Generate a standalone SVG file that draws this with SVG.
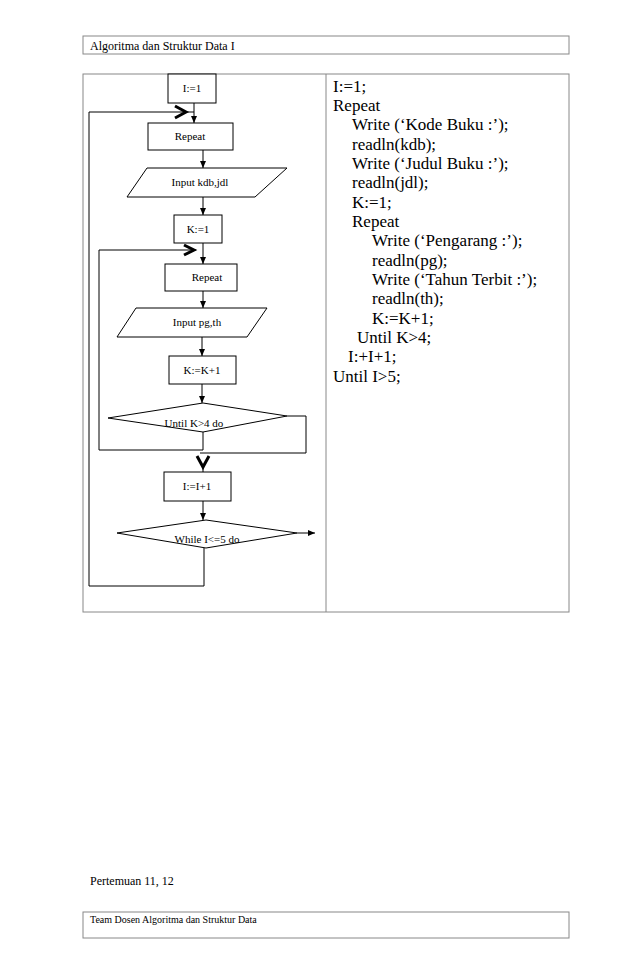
<svg xmlns="http://www.w3.org/2000/svg" width="638" height="976" viewBox="0 0 638 976">
<style>
.b{fill:#fff;stroke:#000;stroke-width:1}
.f{fill:none;stroke:#888;stroke-width:1}
.t{font-family:"Liberation Serif",serif;font-size:11px;fill:#000}
.c{font-family:"Liberation Serif",serif;font-size:17px;fill:#000}
.l{fill:none;stroke:#000;stroke-width:1}
.h{fill:none;stroke:#000;stroke-width:3}
</style>
<defs><marker id="a" markerWidth="8" markerHeight="8" refX="7" refY="4" orient="auto" markerUnits="userSpaceOnUse"><path d="M0,1 L7,4 L0,7 Z" fill="#000"/></marker></defs>
<rect width="638" height="976" fill="#fff"/>
<rect class="f" x="83" y="36" width="486" height="18"/>
<text class="t" x="90" y="50" style="font-size:12px">Algoritma dan Struktur Data I</text>
<rect class="f" x="83" y="74" width="486" height="538"/>
<line class="f" x1="326" y1="74" x2="326" y2="612"/>
<text class="t" x="90" y="885" style="font-size:12px">Pertemuan 11, 12</text>
<rect class="f" x="83" y="912" width="486" height="26"/>
<text class="t" x="90" y="923" style="font-size:10px">Team Dosen Algoritma dan Struktur Data</text>
<g id="connectors">
<line class="l" x1="194" y1="103" x2="194" y2="123" marker-end="url(#a)"/>
<line class="l" x1="203" y1="150" x2="203" y2="168" marker-end="url(#a)"/>
<line class="l" x1="203" y1="197" x2="203" y2="215" marker-end="url(#a)"/>
<line class="l" x1="203" y1="243" x2="203" y2="264" marker-end="url(#a)"/>
<line class="l" x1="203" y1="291" x2="203" y2="308" marker-end="url(#a)"/>
<line class="l" x1="202" y1="337" x2="202" y2="356" marker-end="url(#a)"/>
<line class="l" x1="202" y1="384" x2="202" y2="403" marker-end="url(#a)"/>
<polyline class="l" points="203,432 203,450 99,450 99,250 196,250"/>
<polyline class="h" points="184,245 194,250 184,255"/>
<polyline class="l" points="287,416 306,416 306,453 200,453"/>
<polyline class="h" points="197,456 203,467 209,456"/>
<line class="l" x1="203" y1="467" x2="203" y2="472"/>
<line class="l" x1="203" y1="501" x2="203" y2="520" marker-end="url(#a)"/>
<line class="l" x1="297" y1="533" x2="315" y2="533" marker-end="url(#a)"/>
<polyline class="l" points="204,548 204,586 89,586 89,112 194,112"/>
<polyline class="h" points="175,106 186,112 175,118"/>
</g>
<g id="n1"><rect class="b" x="168" y="74" width="48" height="29"/><text class="t" x="192" y="92" text-anchor="middle">I:=1</text></g>
<g id="n2"><rect class="b" x="148" y="123" width="85" height="27"/><text class="t" x="190" y="140" text-anchor="middle">Repeat</text></g>
<g id="n3"><polygon class="b" points="147,168 287,168 255,197 127,197"/><text class="t" x="200" y="186" text-anchor="middle">Input  kdb,jdl</text></g>
<g id="n4"><rect class="b" x="174" y="215" width="48" height="28"/><text class="t" x="198" y="233" text-anchor="middle">K:=1</text></g>
<g id="n5"><rect class="b" x="165" y="264" width="72" height="27"/><text class="t" x="207" y="281" text-anchor="middle">Repeat</text></g>
<g id="n6"><polygon class="b" points="136,308 267,308 247,337 117,337"/><text class="t" x="197" y="326" text-anchor="middle">Input  pg,th</text></g>
<g id="n7"><rect class="b" x="169" y="356" width="67" height="28"/><text class="t" x="202" y="374" text-anchor="middle">K:=K+1</text></g>
<g id="n8"><polygon class="b" points="203,403 287,416 203,432 108,418"/><text class="t" x="194" y="427" text-anchor="middle">Until K&gt;4 do</text></g>
<g id="n9"><rect class="b" x="164" y="472" width="67" height="29"/><text class="t" x="197" y="490" text-anchor="middle">I:=I+1</text></g>
<g id="n10"><polygon class="b" points="206,520 297,533 206,548 117,533"/><text class="t" x="207" y="543" text-anchor="middle">While I&lt;=5 do</text></g>
<g id="code">
<text class="c" x="333" y="92">I:=1;</text>
<text class="c" x="333" y="111">Repeat</text>
<text class="c" x="352" y="130">Write (‘Kode Buku :’);</text>
<text class="c" x="352" y="150">readln(kdb);</text>
<text class="c" x="352" y="169">Write (‘Judul Buku :’);</text>
<text class="c" x="352" y="188">readln(jdl);</text>
<text class="c" x="352" y="208">K:=1;</text>
<text class="c" x="352" y="227">Repeat</text>
<text class="c" x="372" y="246">Write (‘Pengarang      :’);</text>
<text class="c" x="372" y="266" xml:space="preserve">readln(pg);</text>
<text class="c" x="372" y="285">Write (‘Tahun Terbit :’);</text>
<text class="c" x="372" y="304">readln(th);</text>
<text class="c" x="372" y="324">K:=K+1;</text>
<text class="c" x="357" y="343">Until K&gt;4;</text>
<text class="c" x="348" y="362">I:+I+1;</text>
<text class="c" x="333" y="382">Until I&gt;5;</text>
</g>
</svg>
